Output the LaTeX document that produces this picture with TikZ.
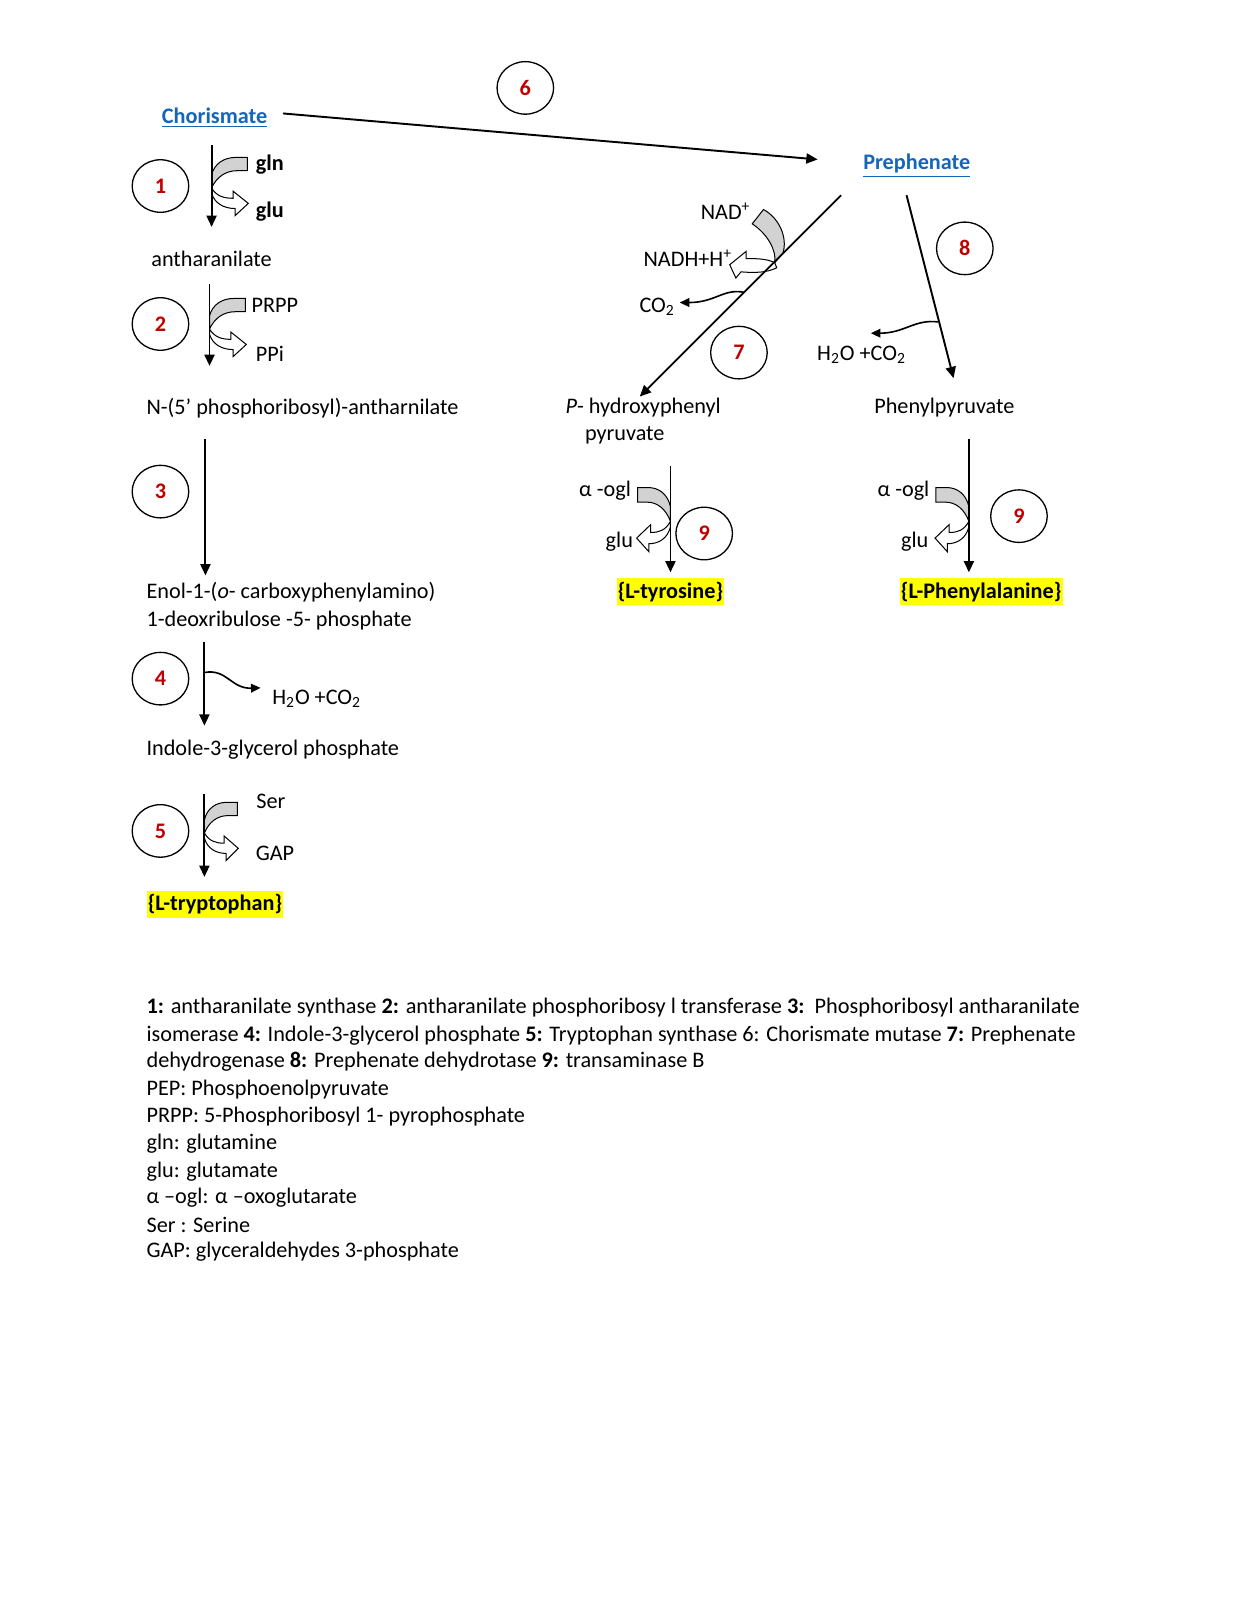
\documentclass[tikz,border=0pt]{standalone}
\usepackage{fontspec}
\usepackage{graphicx}
\setmainfont{Carlito}
\usetikzlibrary{arrows.meta,shapes.geometric}
\definecolor{numred}{HTML}{C00000}
\definecolor{linkblue}{HTML}{1566B8}
\definecolor{bandgray}{HTML}{D2D2D2}
\definecolor{hl}{HTML}{FFFF00}
\tikzset{
  txt/.style={inner sep=0pt, font=\fontsize{11}{13.2}\selectfont},
  btxt/.style={inner sep=0pt, font=\bfseries\fontsize{11}{13.2}\selectfont},
  link/.style={inner sep=0pt, text=linkblue, font=\bfseries\fontsize{11}{13.2}\selectfont},
  num/.style={ellipse, draw, line width=0.65pt, minimum width=28pt, minimum height=26pt, inner sep=0pt, text=numred, font=\bfseries\fontsize{11}{13}\selectfont},
  rx/.style={line width=0.95pt, -{Triangle[length=5.6pt,width=5pt]}},
  side/.style={line width=0.8pt, -{Triangle[length=4.8pt,width=4.3pt]}},
  band/.style={draw, line width=0.5pt, fill=bandgray},
  hollow/.style={draw, line width=0.5pt, fill=white},
  hi/.style={fill=hl, inner xsep=0.6pt, inner ysep=1.8pt, font=\bfseries\fontsize{11}{13.2}\selectfont},
  cofac/.pic={
    \path[band] (0,-13) .. controls (3,-24) and (12,-30) .. (24,-30) -- (35,-30) -- (35,-17) -- (25,-17) .. controls (14,-17) and (5,-11) .. (0,0) -- cycle;
    \path[hollow] (0,0) .. controls (5,8) and (12,10) .. (21,10) -- (21,3) -- (36,15) -- (23,27) -- (23,20) .. controls (12,20) and (3,15) .. (0,5) -- cycle;
  }
}
\begin{document}
\begin{tikzpicture}[x=0.5059pt, y=-0.5059pt]
\useasboundingbox (0,0) rectangle (1209.7,1565.5);

% ---------- left column ----------
\node[link] (chor) at (210,115) {\underline{Chorismate}};
\node[link] (prep) at (897,162) {\underline{Prephenate}};
\node[num] (n6) at (514,86) {6};

\node[num] (n1) at (157,182) {1};
\node[btxt] (gln) at (264,161) {gln};
\node[btxt] (glu1) at (264,207) {glu};
\node[txt] (anth) at (207,253) {antharanilate};

\node[num] (n2) at (157,317) {2};
\node[txt] (prpp) at (269,299) {PRPP};
\node[txt] (ppi) at (264,346) {PPi};
\node[txt, anchor=west] (npa) at (143,399) {N-(5’ phosphoribosyl)-antharnilate};

\node[num] (n3) at (157,481) {3};
\node[txt, anchor=west] (enol1) at (143,579) {Enol-1-(\textit{o}- carboxyphenylamino)};
\node[txt, anchor=west] (enol2) at (143,607) {1-deoxribulose -5- phosphate};

\node[num] (n4) at (157,664) {4};
\node[txt, anchor=west] (h2o4) at (266,684) {H\textsubscript{2}O +CO\textsubscript{2}};
\node[txt, anchor=west] (igp) at (143,734) {Indole-3-glycerol phosphate};

\node[num] (n5) at (157,813) {5};
\node[txt] (ser) at (265,784) {Ser};
\node[txt] (gap) at (269,835) {GAP};
\node[hi, anchor=west] (trp) at (143,885) {\{L-tryptophan\}};

% ---------- right part ----------
\node[txt] (nad) at (710,207) {NAD\textsuperscript{+}};
\node[txt] (nadh) at (673,253) {NADH+H\textsuperscript{+}};
\node[txt] (co2) at (643,300) {CO\textsubscript{2}};
\node[num] (n7) at (723,345) {7};
\node[num] (n8) at (944,243) {8};
\node[txt] (h2o8) at (843,347) {H\textsubscript{2}O +CO\textsubscript{2}};
\node[txt, anchor=west] (hp1) at (553,399) {\textit{P}- hydroxyphenyl};
\node[txt, anchor=west] (hp2) at (572,426) {pyruvate};
\node[txt] (phpy) at (924,399) {Phenylpyruvate};

\node[txt] (aog1) at (592,480) {α -ogl};
\node[txt] (glu9a) at (606,530) {glu};
\node[num] (n9a) at (689,522) {9};
\node[hi] (tyr) at (656,579) {\{L-tyrosine\}};

\node[txt] (aog2) at (884,480) {α -ogl};
\node[txt] (glu9b) at (895,530) {glu};
\node[num] (n9b) at (997,505) {9};
\node[hi] (phe) at (960,579) {\{L-Phenylalanine\}};

% ---------- cofactor motifs ----------
\pic at (207,184) {cofac};
\pic at (205,322) {cofac};
\pic[xscale=0.92] at (200,815) {cofac};
\pic[xscale=-0.92, yscale=1.1] at (656,510) {cofac};
\pic[xscale=-0.92, yscale=1.1] at (948,510) {cofac};
\begin{scope}[shift={(758,257)}]
  \path[band] (-22,-38) -- (-11,-52) .. controls (4,-44) and (13,-25) .. (8,-9) -- (0,0) .. controls (2,-12) and (-7,-28) .. (-22,-38) -- cycle;
  \path[hollow] (0,0) .. controls (-8,-4) and (-18,-4) .. (-28,-4) -- (-28,-11) -- (-44,2) -- (-38,15) -- (-33,9) .. controls (-20,10) and (-8,10) .. (2,5) -- cycle;
\end{scope}

% ---------- coordinates for arrow ends ----------
\coordinate (a6s) at (277,111);  \coordinate (a6e) at (800,156);
\coordinate (a1s) at (207,142);  \coordinate (a1e) at (207,222);
\coordinate (a2s) at (205,278);  \coordinate (a2e) at (205,358);
\coordinate (a3s) at (201,430);  \coordinate (a3e) at (201,563);
\coordinate (a4s) at (200,628);  \coordinate (a4e) at (200,710);
\coordinate (a5s) at (200,777);  \coordinate (a5e) at (200,858);
\coordinate (a7s) at (823,191);  \coordinate (a7e) at (626,388);
\coordinate (a8s) at (887,191);  \coordinate (a8e) at (933,370);
\coordinate (a9as) at (656,456); \coordinate (a9ae) at (656,560);
\coordinate (a9bs) at (948,430); \coordinate (a9be) at (948,560);
\coordinate (s4) at (200,658); \coordinate (s4e) at (255,673);
\coordinate (s7) at (728,286); \coordinate (s7e) at (665,296);
\coordinate (s8) at (918,315); \coordinate (s8e) at (852,326);

% ---------- reaction arrows ----------
\draw[rx] (a6s) -- (a6e);
\draw[rx] (a1s) -- (a1e);
\draw[rx] (a2s) -- (a2e);
\draw[rx] (a3s) -- (a3e);
\draw[rx] (a4s) -- (a4e);
\draw[rx] (a5s) -- (a5e);
\draw[rx] (a7s) -- (a7e);
\draw[rx] (a8s) -- (a8e);
\draw[rx] (a9as) -- (a9ae);
\draw[rx] (a9bs) -- (a9be);

\draw[side] (s4) .. controls (222,654) and (226,674) .. (s4e);
\draw[side] (s7) .. controls (708,282) and (700,296) .. (s7e);
\draw[side] (s8) .. controls (895,312) and (885,326) .. (s8e);

% ---------- legend ----------
\node[txt, anchor=west] (l1) at (143,986) {\resizebox{461.9pt}{\height}{\textbf{1:} antharanilate synthase \textbf{2:} antharanilate phosphoribosy l transferase \textbf{3:}\ \ Phosphoribosyl antharanilate}};
\node[txt, anchor=west] (l2) at (143,1013) {\resizebox{459.9pt}{\height}{isomerase \textbf{4:} Indole-3-glycerol phosphate \textbf{5:} Tryptophan synthase 6: Chorismate mutase \textbf{7:} Prephenate}};
\node[txt, anchor=west] (l3) at (143,1039) {\resizebox{276.2pt}{\height}{dehydrogenase \textbf{8:} Prephenate dehydrotase \textbf{9:} transaminase B}};
\node[txt, anchor=west] (l4) at (143,1066) {PEP: Phosphoenolpyruvate};
\node[txt, anchor=west] (l5) at (143,1092) {PRPP: 5-Phosphoribosyl 1- pyrophosphate};
\node[txt, anchor=west] (l6) at (143,1119) {gln: glutamine};
\node[txt, anchor=west] (l7) at (143,1146) {glu: glutamate};
\node[txt, anchor=west] (l8) at (143,1172) {α –ogl: α –oxoglutarate};
\node[txt, anchor=west] (l9) at (143,1199) {Ser : Serine};
\node[txt, anchor=west] (l10) at (143,1225) {GAP: glyceraldehydes 3-phosphate};
\end{tikzpicture}
\end{document}
